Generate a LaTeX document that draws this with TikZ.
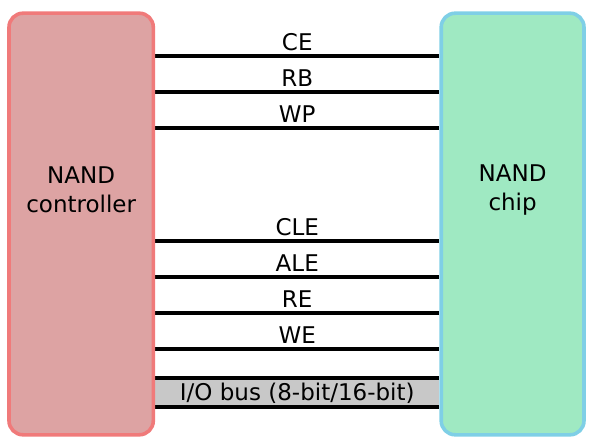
\documentclass[tikz,border=0pt]{standalone}
\usepackage{fontspec}
\setmainfont{DejaVu Sans}
\usetikzlibrary{positioning,calc,backgrounds}
\definecolor{ctrlfill}{HTML}{DDA3A3}
\definecolor{ctrledge}{HTML}{F07A7A}
\definecolor{chipfill}{HTML}{9FE9C2}
\definecolor{chipedge}{HTML}{7FCFE6}
\definecolor{busfill}{HTML}{C8C8C8}

\begin{document}
\begin{tikzpicture}[x=1pt,y=-1pt,
  box/.style={rectangle,rounded corners=14pt,line width=3.6pt,inner sep=0pt},
  lab/.style={font=\fontsize{23}{29}\selectfont,text=black,inner sep=0pt},
  sig/.style={black,line width=3.4pt}]
\useasboundingbox (0,0) rectangle (594,446);
% the two blocks
\node[box,draw=ctrledge,fill=ctrlfill,minimum width=144.3pt,minimum height=421.6pt] (ctrl) at (81.15,224) {};
\node[box,draw=chipedge,fill=chipfill,minimum width=142.8pt,minimum height=421.6pt] (chip) at (512.6,224) {};
\node[lab,align=center] (ctrltext) at (ctrl.center |- 0,190) {NAND\\controller};
\node[lab,align=center] (chiptext) at (chip.center |- 0,190) {NAND\\chip};
\begin{scope}[on background layer]
% control signals
\foreach \y/\sname in {56/CE,92/RB,128/WP,241/CLE,277/ALE,313/RE,349/WE}
  \draw[sig] (ctrl.east |- 0,\y) -- (chip.west |- 0,\y)
    node[lab,midway,anchor=base,yshift=5.5pt] (sig-\sname) {\sname};
% data bus
\coordinate (bustop) at (ctrl.east |- 0,378);
\coordinate (busbot) at (chip.west |- 0,407);
\fill[busfill] (bustop) rectangle (busbot);
\draw[sig] (bustop) -- (chip.west |- bustop);
\draw[sig] (ctrl.east |- busbot) -- (busbot);
\end{scope}
\node[lab,anchor=base] (bus) at ($(bustop)!0.5!(busbot)+(0,7.5)$) {I/O bus (8-bit/16-bit)};
\end{tikzpicture}
\end{document}
